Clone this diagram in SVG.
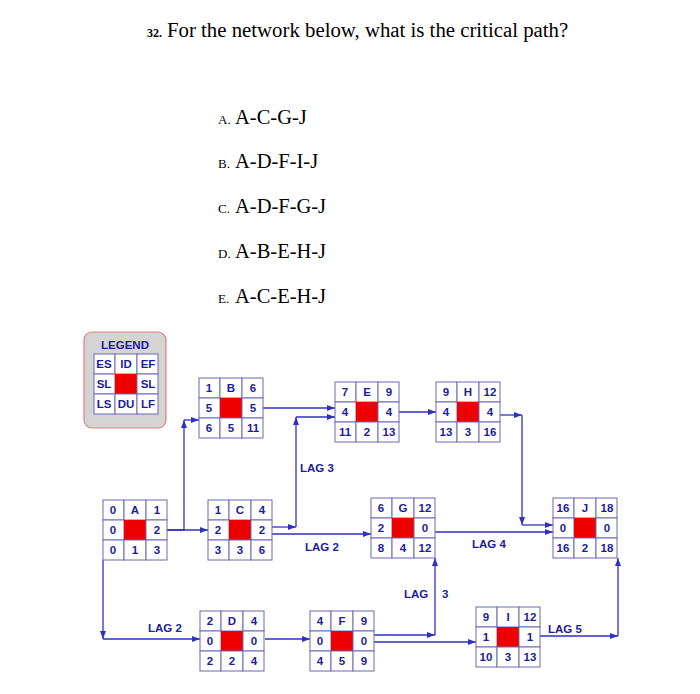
<svg xmlns="http://www.w3.org/2000/svg" width="700" height="694" viewBox="0 0 700 694">
<style>
.q{font-family:"Liberation Serif",serif;fill:#000}
.n{font-family:"Liberation Sans",Arial,sans-serif;font-weight:bold;font-size:11.5px;fill:#1c1c9c;text-anchor:middle}
.g{fill:#fff;stroke:#6a6ab8;stroke-width:1}
.r{fill:#ee0000}
.c{fill:none;stroke:#3030c0;stroke-width:1.3}
.lag{font-family:"Liberation Sans",Arial,sans-serif;font-weight:bold;font-size:11.5px;fill:#1c1c9c}
</style>
<defs>
<marker id="ar" markerWidth="8" markerHeight="6" refX="8" refY="3" orient="auto" markerUnits="userSpaceOnUse"><path d="M0,0 L8,3 L0,6 z" fill="#3030c0"/></marker>
<g id="grid">
<rect class="g" x="0" y="0" width="21" height="20"/><rect class="g" x="21" y="0" width="22" height="20"/><rect class="g" x="43" y="0" width="21" height="20"/>
<rect class="g" x="0" y="20" width="21" height="20"/><rect class="r" x="21" y="20" width="22" height="20"/><rect class="g" x="43" y="20" width="21" height="20"/>
<rect class="g" x="0" y="40" width="21" height="20"/><rect class="g" x="21" y="40" width="22" height="20"/><rect class="g" x="43" y="40" width="21" height="20"/>
</g>
</defs>
<rect width="700" height="694" fill="#fff"/>
<g id="question">
<text class="q" x="147" y="37" font-size="12" font-weight="bold">32.</text>
<text class="q" x="167" y="37" font-size="20.8">For the network below, what is the critical path?</text>
<text class="q" x="218" y="124" font-size="13">A.</text><text class="q" x="235" y="124" font-size="20.5">A-C-G-J</text>
<text class="q" x="218" y="168" font-size="13">B.</text><text class="q" x="235" y="168" font-size="20.5">A-D-F-I-J</text>
<text class="q" x="218" y="213" font-size="13">C.</text><text class="q" x="235" y="213" font-size="20.5">A-D-F-G-J</text>
<text class="q" x="218" y="258" font-size="13">D.</text><text class="q" x="235" y="258" font-size="20.5">A-B-E-H-J</text>
<text class="q" x="218" y="303" font-size="13">E.</text><text class="q" x="235" y="303" font-size="20.5">A-C-E-H-J</text>
</g>
<g id="legend">
<rect x="84" y="332" width="82" height="96" rx="8" fill="#d4d4d4" stroke="#e08080" stroke-width="1.2"/>
<text class="n" x="125" y="349">LEGEND</text>
<use href="#grid" x="94" y="354"/>
<text class="n" x="104" y="368">ES</text><text class="n" x="126" y="368">ID</text><text class="n" x="148" y="368">EF</text>
<text class="n" x="104" y="388">SL</text><text class="n" x="148" y="388">SL</text>
<text class="n" x="104" y="408">LS</text><text class="n" x="126" y="408">DU</text><text class="n" x="148" y="408">LF</text>
</g>
<g id="connectors">
<polyline class="c" points="167,530 184,530 184,420" marker-end="url(#ar)"/>
<line class="c" x1="184" y1="420" x2="199" y2="420" marker-end="url(#ar)"/>
<line class="c" x1="167" y1="530" x2="208" y2="530" marker-end="url(#ar)"/>
<polyline class="c" points="103,560 103,639" marker-end="url(#ar)"/>
<line class="c" x1="103" y1="639" x2="200" y2="639" marker-end="url(#ar)"/>
<line class="c" x1="263" y1="408" x2="335" y2="408" marker-end="url(#ar)"/>
<line class="c" x1="272" y1="527" x2="296" y2="527" marker-end="url(#ar)"/>
<polyline class="c" points="296,527 296,417" marker-end="url(#ar)"/>
<line class="c" x1="296" y1="417" x2="335" y2="417" marker-end="url(#ar)"/>
<line class="c" x1="272" y1="534" x2="371" y2="534" marker-end="url(#ar)"/>
<line class="c" x1="399" y1="412" x2="436" y2="412" marker-end="url(#ar)"/>
<line class="c" x1="500" y1="415" x2="522" y2="415" marker-end="url(#ar)"/>
<polyline class="c" points="522,415 522,525" marker-end="url(#ar)"/>
<line class="c" x1="522" y1="525" x2="553" y2="525" marker-end="url(#ar)"/>
<line class="c" x1="435" y1="532" x2="553" y2="532" marker-end="url(#ar)"/>
<line class="c" x1="265" y1="639" x2="310" y2="639" marker-end="url(#ar)"/>
<line class="c" x1="374" y1="635" x2="435" y2="635" marker-end="url(#ar)"/>
<polyline class="c" points="435,635 435,558" marker-end="url(#ar)"/>
<line class="c" x1="374" y1="642" x2="476" y2="642" marker-end="url(#ar)"/>
<line class="c" x1="540" y1="636" x2="618" y2="636" marker-end="url(#ar)"/>
<polyline class="c" points="618,636 618,558" marker-end="url(#ar)"/>
<text class="lag" x="300" y="472">LAG  3</text>
<text class="lag" x="305" y="551">LAG  2</text>
<text class="lag" x="472" y="548">LAG 4</text>
<text class="lag" x="148" y="632">LAG  2</text>
<text class="lag" x="404" y="598">LAG</text><text class="lag" x="442" y="598">3</text>
<text class="lag" x="548" y="633">LAG 5</text>
</g>
<g id="A"><use href="#grid" x="103" y="500"/>
<text class="n" x="113" y="514">0</text><text class="n" x="135" y="514">A</text><text class="n" x="157" y="514">1</text>
<text class="n" x="113" y="534">0</text><text class="n" x="157" y="534">2</text>
<text class="n" x="113" y="554">0</text><text class="n" x="135" y="554">1</text><text class="n" x="157" y="554">3</text></g>
<g id="B"><use href="#grid" x="199" y="378"/>
<text class="n" x="209" y="392">1</text><text class="n" x="231" y="392">B</text><text class="n" x="253" y="392">6</text>
<text class="n" x="209" y="412">5</text><text class="n" x="253" y="412">5</text>
<text class="n" x="209" y="432">6</text><text class="n" x="231" y="432">5</text><text class="n" x="253" y="432">11</text></g>
<g id="C"><use href="#grid" x="208" y="500"/>
<text class="n" x="218" y="514">1</text><text class="n" x="240" y="514">C</text><text class="n" x="262" y="514">4</text>
<text class="n" x="218" y="534">2</text><text class="n" x="262" y="534">2</text>
<text class="n" x="218" y="554">3</text><text class="n" x="240" y="554">3</text><text class="n" x="262" y="554">6</text></g>
<g id="D"><use href="#grid" x="200" y="611"/>
<text class="n" x="210" y="625">2</text><text class="n" x="232" y="625">D</text><text class="n" x="254" y="625">4</text>
<text class="n" x="210" y="645">0</text><text class="n" x="254" y="645">0</text>
<text class="n" x="210" y="665">2</text><text class="n" x="232" y="665">2</text><text class="n" x="254" y="665">4</text></g>
<g id="E"><use href="#grid" x="335" y="382"/>
<text class="n" x="345" y="396">7</text><text class="n" x="367" y="396">E</text><text class="n" x="389" y="396">9</text>
<text class="n" x="345" y="416">4</text><text class="n" x="389" y="416">4</text>
<text class="n" x="345" y="436">11</text><text class="n" x="367" y="436">2</text><text class="n" x="389" y="436">13</text></g>
<g id="F"><use href="#grid" x="310" y="611"/>
<text class="n" x="320" y="625">4</text><text class="n" x="342" y="625">F</text><text class="n" x="364" y="625">9</text>
<text class="n" x="320" y="645">0</text><text class="n" x="364" y="645">0</text>
<text class="n" x="320" y="665">4</text><text class="n" x="342" y="665">5</text><text class="n" x="364" y="665">9</text></g>
<g id="G"><use href="#grid" x="371" y="498"/>
<text class="n" x="381" y="512">6</text><text class="n" x="403" y="512">G</text><text class="n" x="425" y="512">12</text>
<text class="n" x="381" y="532">2</text><text class="n" x="425" y="532">0</text>
<text class="n" x="381" y="552">8</text><text class="n" x="403" y="552">4</text><text class="n" x="425" y="552">12</text></g>
<g id="H"><use href="#grid" x="436" y="382"/>
<text class="n" x="446" y="396">9</text><text class="n" x="468" y="396">H</text><text class="n" x="490" y="396">12</text>
<text class="n" x="446" y="416">4</text><text class="n" x="490" y="416">4</text>
<text class="n" x="446" y="436">13</text><text class="n" x="468" y="436">3</text><text class="n" x="490" y="436">16</text></g>
<g id="I"><use href="#grid" x="476" y="607"/>
<text class="n" x="486" y="621">9</text><text class="n" x="508" y="621">I</text><text class="n" x="530" y="621">12</text>
<text class="n" x="486" y="641">1</text><text class="n" x="530" y="641">1</text>
<text class="n" x="486" y="661">10</text><text class="n" x="508" y="661">3</text><text class="n" x="530" y="661">13</text></g>
<g id="J"><use href="#grid" x="553" y="498"/>
<text class="n" x="563" y="512">16</text><text class="n" x="585" y="512">J</text><text class="n" x="607" y="512">18</text>
<text class="n" x="563" y="532">0</text><text class="n" x="607" y="532">0</text>
<text class="n" x="563" y="552">16</text><text class="n" x="585" y="552">2</text><text class="n" x="607" y="552">18</text></g>
</svg>
